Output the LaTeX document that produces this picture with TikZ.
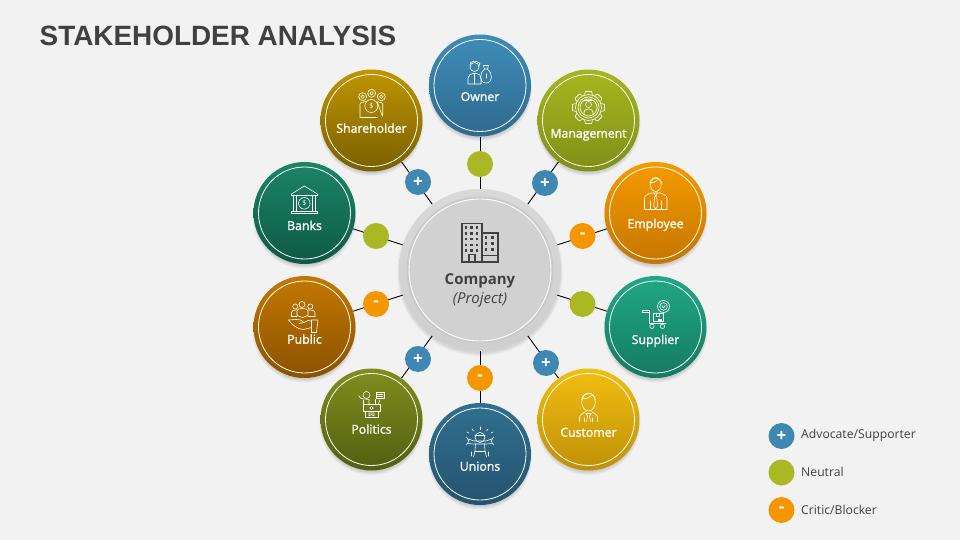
\documentclass[tikz,border=0pt]{standalone}
\usepackage{fontspec}
\setmainfont{Open Sans}
\newfontfamily\titlefont{Liberation Sans}
\newfontfamily\labelfont[FakeBold=1.4]{Open Sans}
\usetikzlibrary{backgrounds}
\definecolor{pagegray}{HTML}{F2F2F2}
\definecolor{textgray}{HTML}{404040}
\definecolor{plusblue}{HTML}{3F88B4}
\definecolor{neutralgreen}{HTML}{A9B823}
\definecolor{minusorange}{HTML}{F59500}
\tikzset{
  disc/.style={circle, inner sep=0pt, minimum size=102pt},
  label/.style={text=white, font=\labelfont\fontsize{12.3}{14}\selectfont, inner sep=0pt, anchor=base},
  badge/.style={circle, inner sep=0pt, minimum size=26pt, text=white, font=\bfseries\fontsize{17}{17}\selectfont},
  plusbadge/.style={badge, fill=plusblue},
  neutralbadge/.style={badge, fill=neutralgreen},
  minusbadge/.style={badge, fill=minusorange},
  legendtext/.style={text=textgray, anchor=west, inner sep=0pt, font=\fontsize{12.2}{14}\selectfont},
  icon/.style={white, line width=0.6pt, line join=round, line cap=round},
  wire/.style={black, line width=0.9pt}
}
\begin{document}
\begin{tikzpicture}[x=1pt, y=-1pt]
  \useasboundingbox (0,0) rectangle (960,540);

  % 背景
  \begin{scope}[on background layer]
    \fill[pagegray] (0,0) rectangle (960,540);
  \end{scope}

  % タイトル
  \node[anchor=west, inner sep=0pt, text=textgray, font=\titlefont\bfseries\fontsize{27.9}{32}\selectfont] (title) at (39.5,36) {STAKEHOLDER ANALYSIS};

  % 中央の円
  \foreach \k in {80,81,82,83} {
    \fill[black, opacity=0.03] (480,273) circle (\k);
  }
  \node[disc, minimum size=162pt, top color=black!15, bottom color=black!19] (company) at (480,270) {};
  \fill[black!21] (480,270) circle (73.5);
  \fill[black!18] (480,270) circle (71);
  \draw[white, line width=0.9pt] (480,270) circle (71);
  \node[text=textgray, font=\bfseries\fontsize{15}{17}\selectfont, inner sep=0pt, anchor=base] (companylabel) at (480,284) {Company};
  \node[text=textgray, font=\itshape\fontsize{15}{17}\selectfont, inner sep=0pt, anchor=base] (projectlabel) at (480,303.5) {(Project)};

  % 周囲の円
  \foreach \nm/\px/\py/\ctop/\cbot/\ly/\lb in {
    owner/480/85.5/3E8DB8/2F6A8E/101/Owner,
    management/588.5/120.5/A5B71E/7F8F18/137.7/Management,
    employee/655.5/213/F79A00/C47600/228/Employee,
    supplier/655.5/327/20A885/157A62/344/Supplier,
    customer/588.5/419.5/F2BE10/BF9008/436.7/Customer,
    unions/480/454/30708F/25536F/470.7/Unions,
    politics/371.5/419.5/7F8F1C/525F12/433.7/Politics,
    public/304.5/327/C47800/8A5200/343.7/Public,
    banks/304.5/213/1B8566/0E5844/230/Banks,
    shareholder/371.5/120.5/C09500/786000/132.7/Shareholder} {
    \foreach \k in {49,50,51,52} {
      \fill[black, opacity=0.04] (\px,\py+3.5) circle (\k);
    }
    \definecolor{discTop}{HTML}{\ctop}
    \definecolor{discBot}{HTML}{\cbot}
    \node[disc, top color=discTop, bottom color=discBot] (\nm) at (\px,\py) {};
    \draw[white, line width=0.8pt] (\px,\py) circle (46);
    \node[label] (\nm label) at (\px,\ly) {\lb};
  }

  % 接続線
  \begin{scope}[on background layer]
    \foreach \nm in {owner,management,employee,supplier,customer,unions,politics,public,banks,shareholder} {
      \draw[wire] (company) -- (\nm);
    }
  \end{scope}

  % 評価のマーク
  \node[neutralbadge] (ownermark) at (480,164) {};
  \node[plusbadge] (managementmark) at (545,183) {+};
  \node[minusbadge] (employeemark) at (582.5,236) {-};
  \node[neutralbadge] (suppliermark) at (582.5,304) {};
  \node[plusbadge] (customermark) at (546,363) {+};
  \node[minusbadge] (unionsmark) at (480,378) {-};
  \node[plusbadge] (politicsmark) at (418,359) {+};
  \node[minusbadge] (publicmark) at (376,304) {-};
  \node[neutralbadge] (banksmark) at (376,236) {};
  \node[plusbadge] (shareholdermark) at (418,182) {+};

  % 凡例
  \node[plusbadge] (legendplus) at (781.5,436) {+};
  \node[neutralbadge] (legendneutral) at (781.5,472.5) {};
  \node[minusbadge] (legendminus) at (781.5,510) {-};
  \node[legendtext] (legendplustext) at (801,435) {Advocate/Supporter};
  \node[legendtext] (legendneutraltext) at (801,472) {Neutral};
  \node[legendtext] (legendminustext) at (801,510) {Critic/Blocker};

  % 会社のアイコン
  \draw[textgray, line width=1.1pt] (462,262) rectangle (482,223.5);
  \draw[textgray, line width=1.1pt] (482,233) -- (498,233) -- (498,262) -- (462,262);
  \draw[textgray, line width=1.1pt] (469,262) -- (469,254.5) -- (475,254.5) -- (475,262);
  \draw[textgray, line width=0.9pt] (482,255) -- (498,255);
  \foreach \wx in {466,471.5,477} {
    \foreach \wy in {227.5,233.3,239,244.8,250.5} {
      \fill[textgray] (\wx-1.3,\wy-1.3) rectangle (\wx+1.3,\wy+1.3);
    }
  }
  \foreach \wx in {486,492.5} {
    \foreach \wy in {237.5,243.3,249.2} {
      \fill[textgray] (\wx-1.3,\wy-1.3) rectangle (\wx+1.3,\wy+1.3);
    }
  }

  % Owner のアイコン
  \draw[icon] (474.5,67) circle (4.5);
  \draw[icon] (470,65.5) .. controls (469,61) and (476,59.5) .. (480,63.5) -- (479,66);
  \draw[icon] (468,84) -- (468,78) .. controls (468,75) and (471,74) .. (473,73.5) -- (476.5,73.5) .. controls (479,74) and (481,75) .. (481,78) -- (481,84) -- cycle;
  \draw[icon] (474.5,74) -- (474.5,84);
  \draw[icon] (483.5,65.5) -- (488.5,65.5) -- (487.5,69) -- (484.5,69) -- cycle;
  \draw[icon] (484.5,69) .. controls (479,73) and (479,83) .. (486,83) .. controls (493,83) and (493,73) .. (487.5,69);
  \draw[icon, line width=1pt] (486,74) -- (486,78);

  % Management のアイコン
  \draw[icon] (588.5,107.5) circle (13);
  \draw[icon] (588.5,107.5) circle (10.5);
  \draw[icon] (588.5,107.5) circle (8.5);
  \foreach \a in {0,45,...,315} {
    \draw[icon, shift={(588.5,107.5)}, rotate=\a] (-4,-13) -- (-3,-16) -- (3,-16) -- (4,-13);
  }
  \draw[icon] (588.5,104.5) circle (3);
  \draw[icon] (584,115) -- (584,112) .. controls (584,110) and (586,109) .. (588.5,109) .. controls (591,109) and (593,110) .. (593,112) -- (593,115);
  \draw[icon] (584.5,100.5) -- (592.5,100.5);

  % Employee のアイコン
  \draw[icon] (655.7,184.5) ellipse (5.5 and 7);
  \draw[icon] (650,184) .. controls (650,176) and (661.5,176) .. (661.5,184);
  \draw[icon] (650.5,182.5) .. controls (654,183) and (657,181) .. (658,179.5);
  \draw[icon] (644.5,209.5) -- (644.5,198.5) .. controls (644.5,195) and (648,194.5) .. (651,193) -- (660.5,193) .. controls (663.5,194.5) and (667,195) .. (667,198.5) -- (667,209.5) -- cycle;
  \draw[icon] (654.5,193) -- (655.7,197) -- (657,193);
  \draw[icon] (654.7,197) -- (653.7,206) -- (655.7,209) -- (657.7,206) -- (656.7,197);
  \draw[icon] (650,201) -- (650,209.5);
  \draw[icon] (661.5,201) -- (661.5,209.5);

  % Supplier のアイコン
  \draw[icon] (642.5,310.5) -- (649.5,310.5) -- (649.5,323.5) -- (666,323.5);
  \draw[icon] (642.5,310.5) -- (642.5,312.5) -- (649.5,312.5);
  \draw[icon] (652,326.3) circle (2.2);
  \draw[icon] (662.5,326.3) circle (2.2);
  \draw[icon] (653,313) rectangle (663,321.5);
  \draw[icon] (656.5,313) -- (656.5,316) -- (659.5,316) -- (659.5,313);
  \draw[icon, fill=white] (658,319) rectangle (661,320);
  \draw[icon] (663.5,306.5) circle (6);
  \draw[icon] (663.5,306.5) circle (3.8);
  \draw[icon] (661.8,305.5) -- (663.5,308) -- (665.2,305.5);

  % Customer のアイコン
  \draw[icon] (588.5,402) ellipse (6.8 and 9);
  \draw[icon] (581.8,400) .. controls (582,392) and (595,391) .. (595.3,400);
  \draw[icon] (582,398.5) .. controls (586,399) and (590,397.5) .. (591.5,395.5);
  \draw[icon] (579.5,421.5) -- (579.5,417.5) .. controls (579.5,414.5) and (583,414) .. (585.5,411.5);
  \draw[icon] (597.7,421.5) -- (597.7,417.5) .. controls (597.7,414.5) and (594,414) .. (591.5,411.5);
  \draw[icon] (584.5,421.5) -- (584.5,418);
  \draw[icon] (592.5,421.5) -- (592.5,418);
  \draw[icon] (586,413.5) -- (591,413.5) -- (589.5,416) -- (590.5,421.5);
  \draw[icon] (586,413.5) -- (587.5,416) -- (586.5,421.5);

  % Unions のアイコン
  \draw[icon] (480,437.5) circle (5);
  \draw[icon] (475,435) -- (485,435);
  \draw[icon] (467,438.5) -- (474,441) -- (486,441) -- (493,438.5);
  \draw[icon] (467,443.5) -- (474,444) -- (486,444) -- (493,443.5);
  \draw[icon] (466.5,437) -- (469,441) -- (466.5,445);
  \draw[icon] (493.5,437) -- (491,441) -- (493.5,445);
  \draw[icon] (475.5,444) -- (475,451) -- (473.5,457);
  \draw[icon] (484.5,444) -- (485,451) -- (486.5,457);
  \draw[icon] (475,451) -- (485,451);
  \foreach \rx/\ry/\sx/\sy in {473.5/431/472/429, 480/429.5/480/427, 486.5/431/488/429, 469/433/467/432, 491/433/493/432} {
    \draw[icon] (\rx,\ry) -- (\sx,\sy);
  }
  \draw[icon] (471.5,452) -- (471.5,456);
  \draw[icon] (488.5,452) -- (488.5,456);

  % Politics のアイコン
  \draw[icon] (366.5,395) circle (3.5);
  \draw[icon] (358.5,395.5) -- (361,398.5) -- (369,399.5) -- (369,404);
  \draw[icon] (363.5,400) -- (363.5,404);
  \draw[icon] (376,392) rectangle (384.5,398);
  \draw[icon] (377.5,394) -- (383,394);
  \draw[icon] (377.5,396) -- (383,396);
  \draw[icon] (375,404) -- (375,399.5);
  \draw[icon] (378.5,404) -- (380,399.5);
  \draw[icon] (363.5,404.5) rectangle (380,411.5);
  \draw[icon] (371.5,408) circle (1.7);
  \draw[icon] (365,411.5) rectangle (378.5,417);
  \draw[icon] (369,413) -- (369,416) -- (371.5,414.5) -- (374,416) -- (374,413) -- cycle;

  % Public のアイコン
  \draw[icon] (295.3,306.5) circle (2.6);
  \draw[icon] (302,304.5) circle (3);
  \draw[icon] (310.3,306.5) circle (2.6);
  \draw[icon] (291.5,316.5) -- (291.5,312.5) .. controls (291.5,310) and (294,310) .. (297,310) -- (298,310);
  \draw[icon] (315,316.5) -- (315,312.5) .. controls (315,310) and (312.5,310) .. (309.5,310) -- (308,310);
  \draw[icon] (297,315.5) -- (297,311) .. controls (297,309) and (299,308.5) .. (302,308.5) .. controls (305,308.5) and (308,309) .. (308,311) -- (308,315.5) -- (302.5,317.5) -- cycle;
  \draw[icon] (291.5,316.5) -- (297,316.5);
  \draw[icon] (308,316.5) -- (315,316.5);
  \draw[icon] (288.5,320) -- (296,319.5) .. controls (299,319) and (301,320) .. (304,322.5) -- (308,320.5) -- (311.5,321);
  \draw[icon] (288.5,320) .. controls (292,325) and (298,329.5) .. (303.5,329.5) -- (311.5,327.5);
  \draw[icon] (299,323.5) -- (304,322.5);
  \draw[icon] (311.5,320) -- (318,320) -- (316.5,332.5) -- (311.5,332.5) -- cycle;

  % Banks のアイコン
  \draw[icon] (304.3,186) -- (291.5,194) -- (291.5,195.5) -- (317.5,195.5) -- (317.5,194) -- cycle;
  \draw[icon] (291.5,211) rectangle (317.5,213.5);
  \foreach \bx in {293.5,296.5,312,315} {
    \draw[icon] (\bx,195.5) -- (\bx,211);
  }
  \draw[icon] (304.3,203.3) circle (5.8);
  \node[text=white, inner sep=0pt, font=\fontsize{7}{7}\selectfont] (bankcoin) at (304.3,203.3) {\$};

  % Shareholder のアイコン
  \foreach \hx/\hy in {362.7/96.7, 371.7/93.3, 381.3/96.7} {
    \draw[icon] (\hx,\hy) circle (4);
    \draw[icon] (\hx,\hy) circle (1.8);
  }
  \draw[icon, rounded corners=1pt] (360,117) -- (360,103) -- (366,101.5);
  \draw[icon, rounded corners=1pt] (377,101.5) -- (382.7,103) -- (382.7,117) -- cycle;
  \draw[icon] (360,117) -- (377,117);
  \draw[icon] (371.3,106) circle (6.5);
  \node[text=white, inner sep=0pt, font=\fontsize{7}{7}\selectfont] (sharecoin) at (371.3,106) {\$};
\end{tikzpicture}
\end{document}
